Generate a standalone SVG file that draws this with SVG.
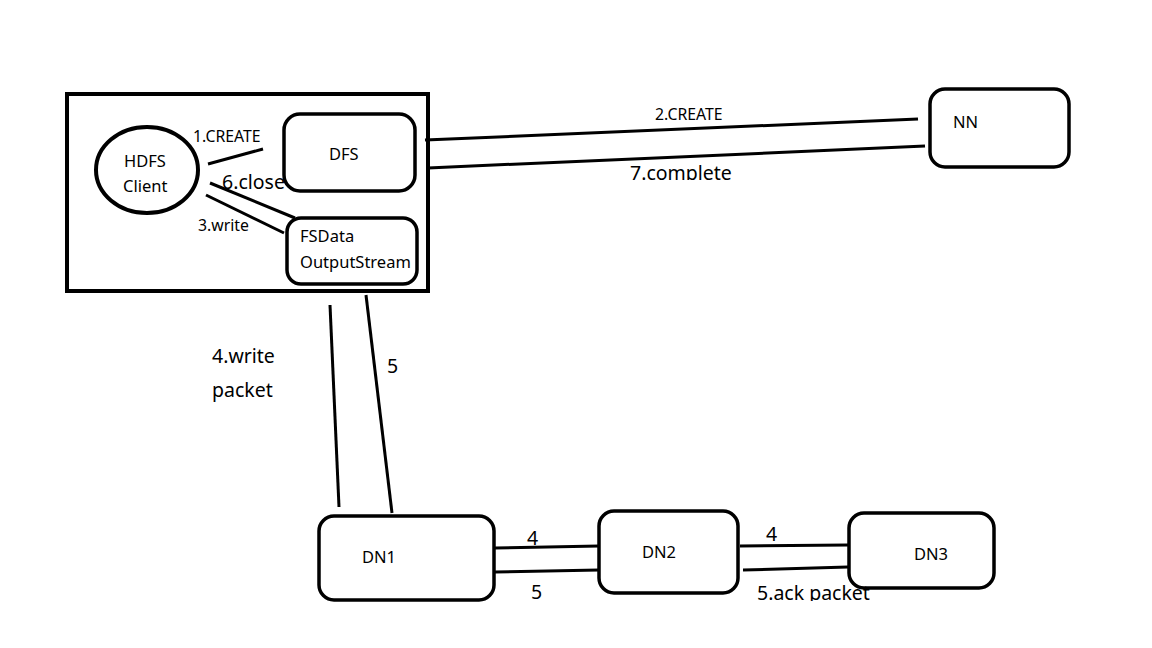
<svg xmlns="http://www.w3.org/2000/svg" width="1152" height="648" viewBox="0 0 1152 648">
<style>
.box{fill:none;stroke:#000;stroke-width:3.5}
.ln{stroke:#000;stroke-width:3;fill:none}
.t{font-family:"Noto Sans","Open Sans",sans-serif;font-size:16.5px;fill:#000}
.s{font-size:15.8px}
.b{font-size:19.5px}
</style>
<defs>
<clipPath id="c7"><rect x="600" y="150" width="200" height="30"/></clipPath>
<clipPath id="c5"><rect x="740" y="575" width="200" height="26"/></clipPath>
</defs>
<rect width="1152" height="648" fill="#fff"/>
<g id="container"><rect x="67" y="94" width="361" height="197" fill="none" stroke="#000" stroke-width="4"/></g>
<g id="client">
<ellipse cx="147" cy="170" rx="51" ry="43" fill="none" stroke="#000" stroke-width="4"/>
<text class="t" x="124" y="167">HDFS</text>
<text class="t" x="123" y="192">Client</text>
</g>
<g id="dfs">
<rect class="box" x="284" y="114" width="131" height="77" rx="16"/>
<text class="t" x="329" y="160">DFS</text>
</g>
<g id="fsdata">
<rect class="box" x="287" y="218" width="130" height="66" rx="14"/>
<text class="t" x="300" y="242">FSData</text>
<text class="t" x="300" y="268">OutputStream</text>
</g>
<g id="nn">
<rect class="box" x="930" y="89" width="139" height="78" rx="15" stroke-width="4"/>
<text class="t" x="953" y="128">NN</text>
</g>
<g id="dn1">
<rect class="box" x="319" y="516" width="175" height="84" rx="15" stroke-width="4"/>
<text class="t" x="362" y="563">DN1</text>
</g>
<g id="dn2">
<rect class="box" x="599" y="511" width="139" height="82" rx="15" stroke-width="4"/>
<text class="t" x="642" y="558">DN2</text>
</g>
<g id="dn3">
<rect class="box" x="849" y="513" width="145" height="75" rx="15" stroke-width="4"/>
<text class="t" x="914" y="560">DN3</text>
</g>
<g id="connectors">
<line class="ln" x1="208" y1="164" x2="263" y2="149"/>
<line class="ln" x1="210" y1="183" x2="295" y2="218"/>
<line class="ln" x1="206" y1="195" x2="284" y2="233"/>
<line class="ln" x1="425" y1="140" x2="918" y2="119"/>
<line class="ln" x1="428" y1="168" x2="925" y2="146"/>
<line class="ln" x1="330" y1="305" x2="339" y2="507"/>
<line class="ln" x1="366" y1="295" x2="392" y2="513"/>
<line class="ln" x1="495" y1="548" x2="599" y2="546"/>
<line class="ln" x1="495" y1="572" x2="599" y2="570"/>
<line class="ln" x1="740" y1="546" x2="848" y2="545"/>
<line class="ln" x1="743" y1="570" x2="848" y2="567"/>
</g>
<g id="labels">
<text class="t s" x="193" y="142">1.CREATE</text>
<text class="t b" x="222" y="189">6.close</text>
<text class="t s" x="198" y="231" font-size="15">3.write</text>
<text class="t s" x="655" y="120">2.CREATE</text>
<text class="t b" x="630" y="180" clip-path="url(#c7)">7.complete</text>
<text class="t b" x="212" y="363">4.write</text>
<text class="t b" x="212" y="397">packet</text>
<text class="t b" x="387" y="373">5</text>
<text class="t b" x="527" y="545">4</text>
<text class="t b" x="531" y="599">5</text>
<text class="t b" x="766" y="541">4</text>
<text class="t b" x="757" y="600" clip-path="url(#c5)">5.ack packet</text>
</g>
</svg>
